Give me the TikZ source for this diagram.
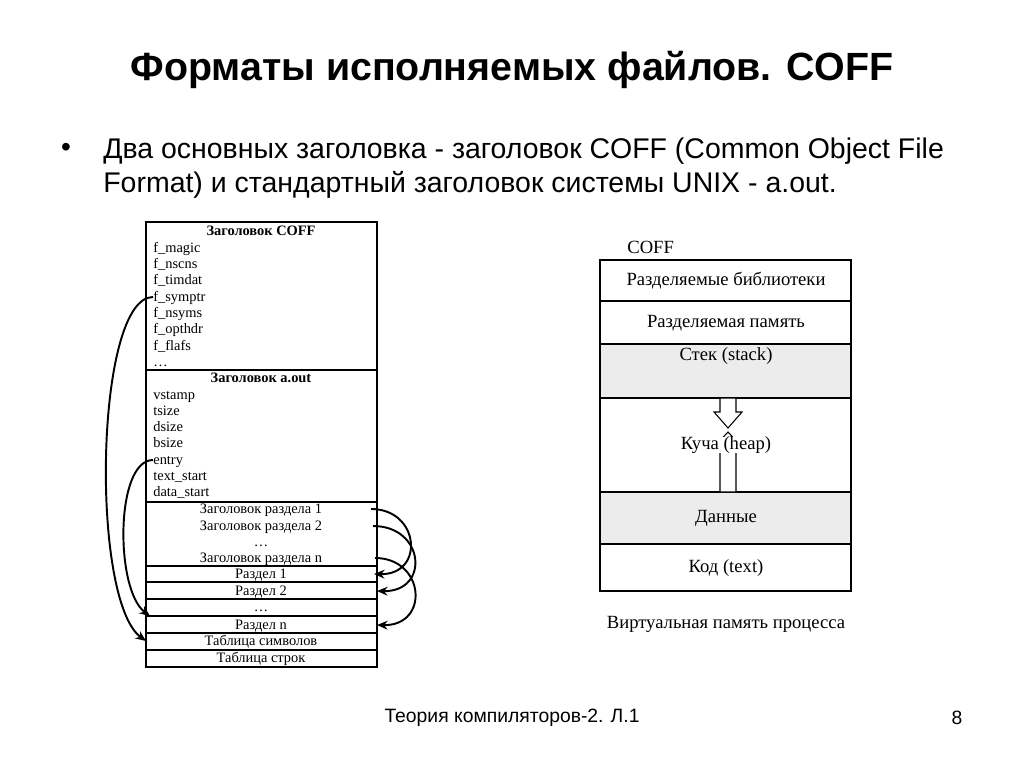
\documentclass[tikz,border=0pt]{standalone}
\usepackage{fontspec}
\setmainfont{Liberation Serif}
\newfontfamily\sansf{Liberation Sans}
\usetikzlibrary{arrows.meta,positioning,calc}
\tikzset{
	row/.style={draw=black,line width=0.6pt},
	fld/.style={anchor=west,inner sep=0pt,text height=1.5ex,text depth=.4ex,font=\fontsize{8.2}{9}\selectfont},
	ctr/.style={inner sep=0pt,text height=1.5ex,text depth=.4ex,font=\fontsize{8.2}{9}\selectfont},
	cell/.style={inner sep=0pt,text height=1.5ex,text depth=.4ex,font=\fontsize{10.6}{12}\selectfont},
	link/.style={-{Stealth[length=6pt,width=5pt]},line width=1.1pt}
}
\begin{document}
\begin{tikzpicture}[x=0.02cm,y=-0.02cm]
	\useasboundingbox (0,0) rectangle (1024,768);
	% title and bullet
	\node[font=\sansf\bfseries\fontsize{22.4}{24}\selectfont](title) at (512,70) {Форматы исполняемых файлов. COFF};
	\node[font=\sansf\fontsize{16}{18}\selectfont](dot) at (66,150) {•};
	\node[anchor=north west,align=left,inner sep=0pt,font=\sansf\fontsize{16.2}{19}\selectfont](intro) at (103,138) {Два основных заголовка - заголовок COFF (Common Object File\\Format) и стандартный заголовок системы UNIX - a.out.};
	% left table
	\draw[row] (146,222) rectangle (377,370);
	\draw[row] (146,370) rectangle (377,502);
	\draw[row] (146,502) rectangle (377,566);
	\foreach \a/\b in {566/582,582/599,599/616,616/633,633/650,650/667}
		\draw[row] (146,\a) rectangle (377,\b);
	\node[ctr,font=\bfseries\fontsize{8.2}{9}\selectfont](hcoff) at (261,231) {Заголовок COFF};
	\node[fld](fmagic) at (153,248) {f\_magic};
	\node[fld](fnscns) at (153,264) {f\_nscns};
	\node[fld](ftimdat) at (153,280) {f\_timdat};
	\node[fld](fsymptr) at (153,297) {f\_symptr};
	\node[fld](fnsyms) at (153,313) {f\_nsyms};
	\node[fld](fopthdr) at (153,329) {f\_opthdr};
	\node[fld](fflafs) at (153,346) {f\_flafs};
	\node[fld](fdots) at (153,362) {\dots};
	\node[ctr,font=\bfseries\fontsize{8.2}{9}\selectfont](haout) at (261,378) {Заголовок a.out};
	\node[fld](vstamp) at (153,395) {vstamp};
	\node[fld](tsize) at (153,411) {tsize};
	\node[fld](dsize) at (153,427) {dsize};
	\node[fld](bsize) at (153,443) {bsize};
	\node[fld](entry) at (153,460) {entry};
	\node[fld](tstart) at (153,476) {text\_start};
	\node[fld](dstart) at (153,492) {data\_start};
	\node[ctr](sh1) at (261,509) {Заголовок раздела 1};
	\node[ctr](sh2) at (261,526) {Заголовок раздела 2};
	\node[ctr](shdots) at (261,542) {\dots};
	\node[ctr](shn) at (261,558) {Заголовок раздела n};
	\node[ctr](sec1) at (261,574) {Раздел 1};
	\node[ctr](sec2) at (261,591) {Раздел 2};
	\node[ctr](secdots) at (261,607) {\dots};
	\node[ctr](secn) at (261,625) {Раздел n};
	\node[ctr](symtab) at (261,641) {Таблица символов};
	\node[ctr](strtab) at (261,658) {Таблица строк};
	% pointers
	\coordinate (symin) at (146,641);
	\coordinate (secnin) at (150,616);
	\coordinate (o1) at (371,509);
	\coordinate (o2) at (373,526);
	\coordinate (on) at (375,558);
	\coordinate (s1in) at (374,574);
	\coordinate (s2in) at (377,591);
	\coordinate (snin) at (377,625);
	\draw[link] (fsymptr.west) .. controls (95,297) and (90,600) .. (symin);
	\draw[link] (entry.west) .. controls (115,460) and (115,590) .. (secnin);
	\draw[link] (o1) .. controls (420,509) and (425,575) .. (s1in);
	\draw[link] (o2) .. controls (425,526) and (430,592) .. (s2in);
	\draw[link] (on) .. controls (425,558) and (430,626) .. (snin);
	% right diagram
	\node[anchor=west,cell](coff) at (627,249) {COFF};
	\fill[gray!15] (600,344) rectangle (851,398);
	\fill[gray!15] (600,492) rectangle (851,544);
	\foreach \a/\b in {260/301,301/344,344/398,398/492,492/544,544/591}
		\draw[row] (600,\a) rectangle (851,\b);
	\draw[fill=white,line width=0.6pt] (720,398) -- (736,398) -- (736,412) -- (742,412) -- (728,428) -- (714,412) -- (720,412) -- cycle;
	\draw[fill=white,line width=0.6pt] (720,492) -- (736,492) -- (736,447) -- (742,447) -- (728,432) -- (714,447) -- (720,447) -- cycle;
	\node[cell](shlib) at (726,281) {Разделяемые библиотеки};
	\node[cell](shmem) at (726,323) {Разделяемая память};
	\node[cell](stack) at (726,356) {Стек (stack)};
	\node[cell,fill=white](heap) at (726,445) {Куча (heap)};
	\node[cell](data) at (726,518) {Данные};
	\node[cell](code) at (726,568) {Код (text)};
	\node[cell](vmem) at (726,624) {Виртуальная память процесса};
	% footer
	\node[font=\sansf\fontsize{11}{12}\selectfont](foot) at (512,718) {Теория компиляторов-2. Л.1};
	\node[font=\sansf\fontsize{11}{12}\selectfont](page) at (957,718) {8};
\end{tikzpicture}
\end{document}
